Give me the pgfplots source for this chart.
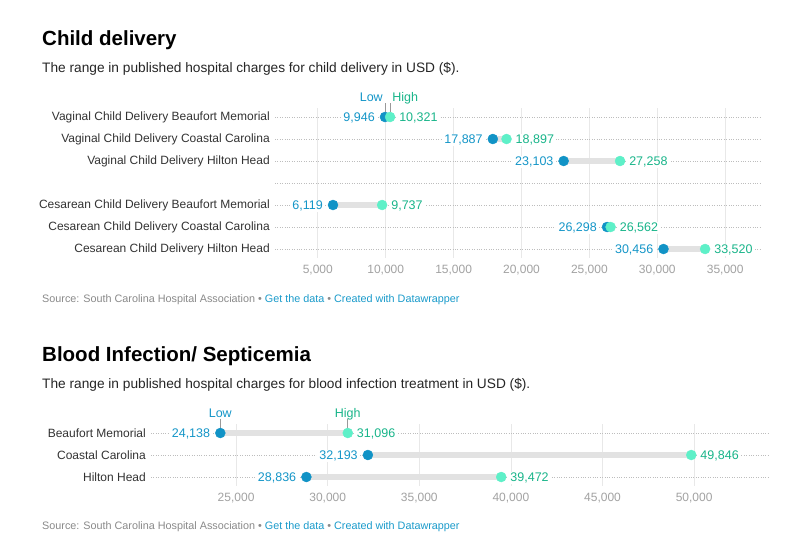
\documentclass[border=0pt]{standalone}
\usepackage{pgfplots}
\pgfplotsset{compat=1.18}
\usepackage{fontspec}
\setmainfont{Liberation Sans}
\definecolor{lowC}{HTML}{1193C6}
\definecolor{lowT}{HTML}{1596C8}
\definecolor{highC}{HTML}{5EF0C8}
\definecolor{highT}{HTML}{19B58A}
\definecolor{barC}{HTML}{E2E2E2}
\definecolor{gridC}{HTML}{E8E8E8}
\definecolor{dotC}{HTML}{BDBDBD}
\definecolor{tickC}{HTML}{A2A2A2}
\definecolor{labC}{HTML}{333333}
\definecolor{srcC}{HTML}{8A8A8A}
\definecolor{linkC}{HTML}{1A9BCB}
\pgfplotsset{
  dumb/.style={
    scale only axis,
    axis line style={draw=none},
    tick style={draw=none},
    y dir=reverse,
    scaled x ticks=false,
    xmajorgrids, ymajorgrids,
    x grid style={gridC, line width=0.8pt},
    y grid style={dotC, dotted, line width=0.7pt},
    xticklabel style={font=\fontsize{12}{14}\selectfont, text=tickC, yshift=-4pt},
    yticklabel style={font=\fontsize{12}{14}\selectfont, text=labC, xshift=-3pt, fill=white, inner xsep=2pt},
    /pgf/number format/.cd, fixed, precision=0, 1000 sep={,}, assume math mode=true,
  },
  bar/.style={no markers, line width=6pt, color=barC, forget plot},
  lowp/.style={only marks, mark=*, mark size=5pt, color=lowC,
    point meta=x, nodes near coords,
    every node near coord/.style={anchor=mid east, inner xsep=2.5pt, inner ysep=1pt, fill=white, xshift=-7.5pt, yshift=-2pt,
      font=\fontsize{12.5}{14}\selectfont, text=lowT}},
  highp/.style={only marks, mark=*, mark size=5pt, color=highC,
    point meta=x, nodes near coords,
    every node near coord/.style={anchor=mid west, inner xsep=2.5pt, inner ysep=1pt, fill=white, xshift=6.5pt, yshift=-2pt,
      font=\fontsize{12.5}{14}\selectfont, text=highT}},
}
\begin{document}
\begin{tikzpicture}[x=1pt,y=1pt]
\fill[white] (0,0) rectangle (808,-547);
\path[use as bounding box] (0,0) rectangle (808,-547);
% ---------- Chart 1 ----------
\node[anchor=base west, inner sep=0pt, font=\fontsize{20.5}{24}\selectfont\bfseries] at (42,-45) {Child delivery};
\node[anchor=base west, inner sep=0pt, font=\fontsize{13.7}{16}\selectfont, text=black!85] at (42,-72) {The range in published hospital charges for child delivery in USD (\$).};
\begin{axis}[dumb,
  at={(275pt,-108.2pt)}, anchor=north west,
  width=487pt, height=149.6pt,
  xmin=1848, xmax=37710, ymin=-0.4, ymax=6.4,
  xtick={5000,10000,15000,20000,25000,30000,35000},
  ytick={0,1,2,3,4,5,6},
  yticklabels={Vaginal Child Delivery Beaufort Memorial, Vaginal Child Delivery Coastal Carolina, Vaginal Child Delivery Hilton Head, {}, Cesarean Child Delivery Beaufort Memorial, Cesarean Child Delivery Coastal Carolina, Cesarean Child Delivery Hilton Head},
  clip=false]
\addplot[bar] coordinates {(9946,0) (10321,0)};
\addplot[bar] coordinates {(17887,1) (18897,1)};
\addplot[bar] coordinates {(23103,2) (27258,2)};
\addplot[bar] coordinates {(6119,4) (9737,4)};
\addplot[bar] coordinates {(26298,5) (26562,5)};
\addplot[bar] coordinates {(30456,6) (33520,6)};
\addplot[lowp] coordinates {(9946,0) (17887,1) (23103,2) (6119,4) (26298,5) (30456,6)};
\addplot[highp] coordinates {(10321,0) (18897,1) (27258,2) (9737,4) (26562,5) (33520,6)};
\draw[gray!80, line width=0.6pt] ([yshift=5.5pt]axis cs:9946,0) -- ([yshift=14pt]axis cs:9946,0);
\draw[gray!80, line width=0.6pt] ([yshift=5.5pt]axis cs:10321,0) -- ([yshift=14pt]axis cs:10321,0);
\node[anchor=base east, inner sep=0pt, xshift=-2pt, yshift=15.5pt, font=\fontsize{12.5}{14}\selectfont, text=lowT] at (axis cs:9946,0) {Low};
\node[anchor=base west, inner sep=0pt, xshift=2pt, yshift=15.5pt, font=\fontsize{12.5}{14}\selectfont, text=highT] at (axis cs:10321,0) {High};
\end{axis}
\node[anchor=base west, inner sep=0pt, font=\fontsize{10.8}{12}\selectfont] at (42,-302) {\textcolor{srcC}{Source: South Carolina Hospital Association •} \textcolor{linkC}{Get the data} \textcolor{srcC}{•} \textcolor{linkC}{Created with Datawrapper}};
% ---------- Chart 2 ----------
\node[anchor=base west, inner sep=0pt, font=\fontsize{20.5}{24}\selectfont\bfseries] at (42,-361) {Blood Infection/ Septicemia};
\node[anchor=base west, inner sep=0pt, font=\fontsize{13.7}{16}\selectfont, text=black!85] at (42,-388) {The range in published hospital charges for blood infection treatment in USD (\$).};
\begin{axis}[dumb,
  at={(151pt,-424.2pt)}, anchor=north west,
  width=619pt, height=61.6pt,
  xmin=20355, xmax=54143, ymin=-0.4, ymax=2.4,
  xtick={25000,30000,35000,40000,45000,50000},
  ytick={0,1,2},
  yticklabels={Beaufort Memorial, Coastal Carolina, Hilton Head},
  clip=false]
\addplot[bar] coordinates {(24138,0) (31096,0)};
\addplot[bar] coordinates {(32193,1) (49846,1)};
\addplot[bar] coordinates {(28836,2) (39472,2)};
\addplot[lowp] coordinates {(24138,0) (32193,1) (28836,2)};
\addplot[highp] coordinates {(31096,0) (49846,1) (39472,2)};
\draw[gray!80, line width=0.6pt] ([yshift=5.5pt]axis cs:24138,0) -- ([yshift=14pt]axis cs:24138,0);
\draw[gray!80, line width=0.6pt] ([yshift=5.5pt]axis cs:31096,0) -- ([yshift=14pt]axis cs:31096,0);
\node[anchor=base, inner sep=0pt, yshift=16pt, font=\fontsize{12.5}{14}\selectfont, text=lowT] at (axis cs:24138,0) {Low};
\node[anchor=base, inner sep=0pt, yshift=16pt, font=\fontsize{12.5}{14}\selectfont, text=highT] at (axis cs:31096,0) {High};
\end{axis}
\node[anchor=base west, inner sep=0pt, font=\fontsize{10.8}{12}\selectfont] at (42,-529) {\textcolor{srcC}{Source: South Carolina Hospital Association •} \textcolor{linkC}{Get the data} \textcolor{srcC}{•} \textcolor{linkC}{Created with Datawrapper}};
\end{tikzpicture}
\end{document}
